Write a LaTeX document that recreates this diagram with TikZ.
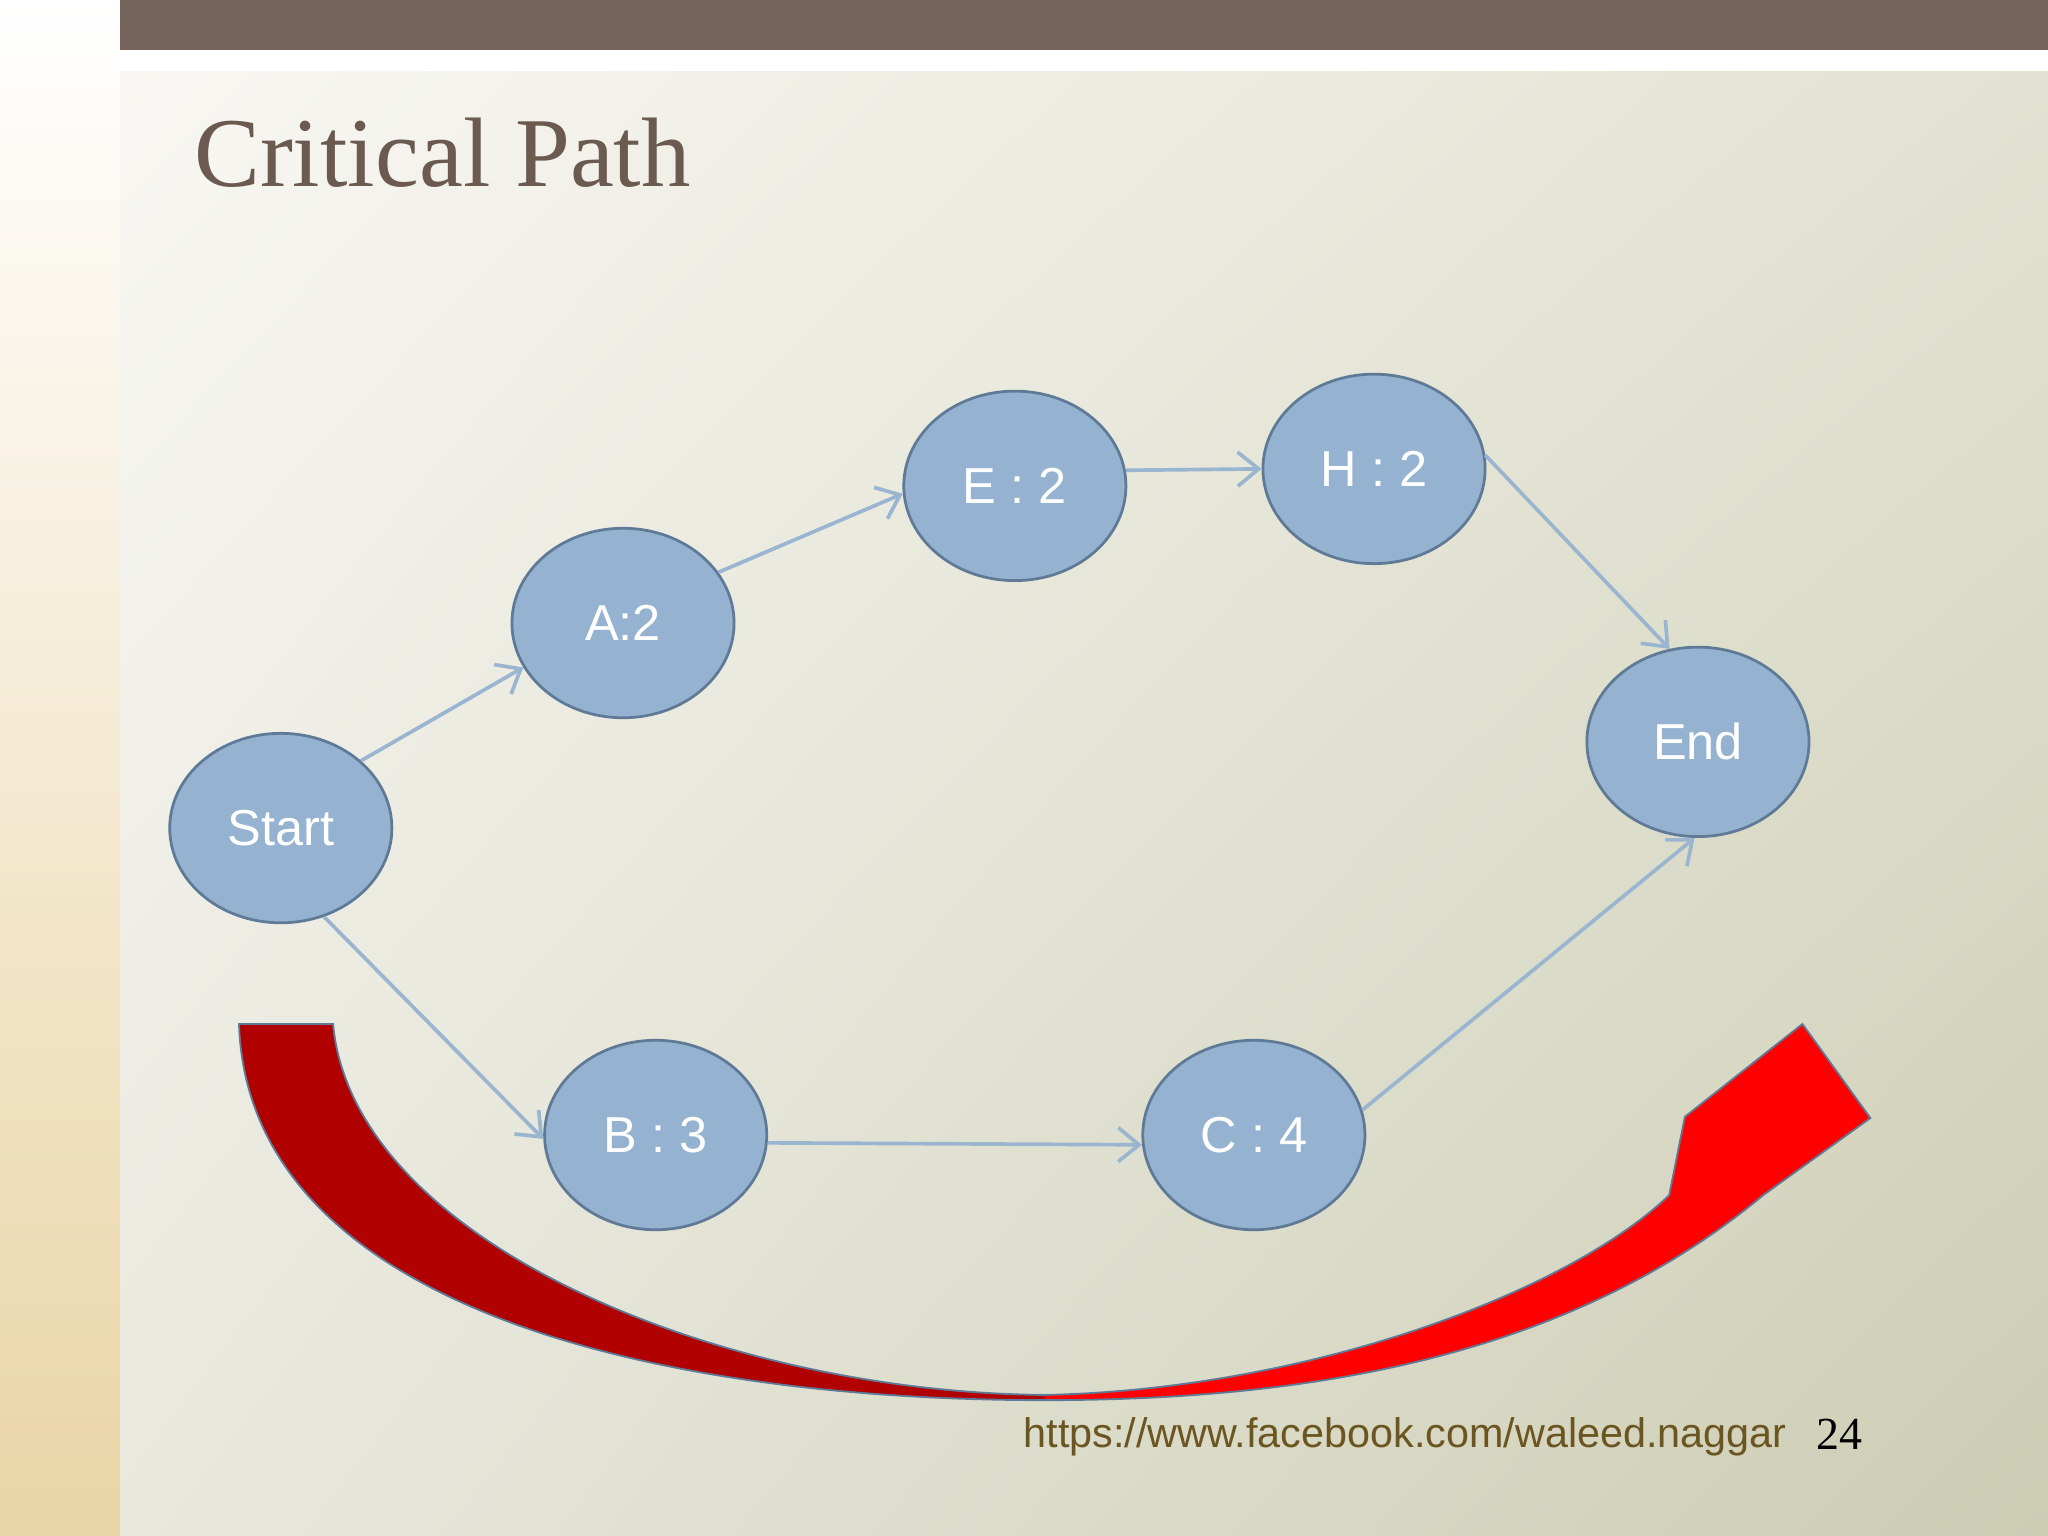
\documentclass[tikz,border=0pt]{standalone}
\usepackage{fontspec}
\setmainfont{Liberation Serif}
\setsansfont{Liberation Sans}
\usetikzlibrary{shapes.geometric,arrows.meta,shadings}
\definecolor{bar}{HTML}{75625A}
\definecolor{nodefill}{HTML}{95B3D0}
\definecolor{nodeline}{HTML}{5F7A96}
\definecolor{arr}{HTML}{9AB5D0}
\definecolor{titlec}{HTML}{6B5A50}
\definecolor{urlc}{HTML}{6B5520}
\definecolor{darkred}{HTML}{B00000}
\definecolor{tan}{HTML}{E9D4A5}
\definecolor{bgul}{HTML}{F8F7F3}
\definecolor{bgur}{HTML}{E2E2D2}
\definecolor{bgll}{HTML}{E8E8DE}
\definecolor{bglr}{HTML}{CDCDB4}
\tikzset{
  ev/.style={ellipse,draw=nodeline,line width=0.6pt,fill=nodefill,minimum width=1.7cm,minimum height=1.45cm,inner sep=0pt,text=white,font=\sffamily\fontsize{11}{13}\selectfont},
  link/.style={draw=arr,line width=0.8pt,-{Straight Barb[length=1.6mm,width=2.6mm]}}
}
\begin{document}
\begin{tikzpicture}[x=0.01cm,y=-0.01cm]
\useasboundingbox (0,0) rectangle (1568,1176);
\shade[top color=white,bottom color=tan] (0,0) rectangle (92,1176);
\fill[white] (92,0) rectangle (1568,55);
\fill[bar] (92,0) rectangle (1568,38);
\shade[upper left=bgul,upper right=bgur,lower left=bgll,lower right=bglr] (92,55) rectangle (1568,1176);
\node[anchor=base west,text=titlec,font=\fontsize{21.5}{25}\selectfont,inner sep=0pt] (title) at (148,143) {Critical Path};
% red curved arrow
\fill[darkred] (183,784) -- (255,784) .. controls (270,950) and (550,1066) .. (800,1068) -- (800,1072) .. controls (500,1072) and (190,1000) .. (183,784) -- cycle;
\fill[red] (800,1068) .. controls (1000,1064) and (1200,990) .. (1278,915) -- (1290,855) -- (1380,784) -- (1432,856) -- (1350,915) .. controls (1200,1040) and (1000,1072) .. (800,1072) -- cycle;
\draw[nodeline,line width=0.4pt] (183,784) -- (255,784) .. controls (270,950) and (550,1066) .. (800,1068) .. controls (1000,1064) and (1200,990) .. (1278,915) -- (1290,855) -- (1380,784) -- (1432,856) -- (1350,915) .. controls (1200,1040) and (1000,1072) .. (800,1072) .. controls (500,1072) and (190,1000) .. (183,784) -- cycle;
% nodes
\node[ev] (start) at (215,634) {Start};
\node[ev] (a) at (477,477) {A:2};
\node[ev] (e) at (777,372) {E : 2};
\node[ev] (h) at (1052,359) {H : 2};
\node[ev] (end) at (1300,568) {End};
\node[ev] (b) at (502,869) {B : 3};
\node[ev] (c) at (960,869) {C : 4};
\draw[link] (start.40) -- (a.204);
\draw[link] (a.28) -- (e.184);
\draw[link] (e.8) -- (h.180);
\draw[link] (h.7) -- (end.107);
\draw[link] (start.-64) -- (b.182);
\draw[link] (b.-4) -- (c.185);
\draw[link] (c.13) -- (end.268);
\node[anchor=base west,text=urlc,font=\sffamily\fontsize{9}{11}\selectfont,inner sep=0pt] (url) at (783,1108) {https://www.facebook.com/waleed.naggar};
\node[anchor=base west,font=\fontsize{10}{12}\selectfont,inner sep=0pt] (pg) at (1390,1110) {24};
\end{tikzpicture}
\end{document}
